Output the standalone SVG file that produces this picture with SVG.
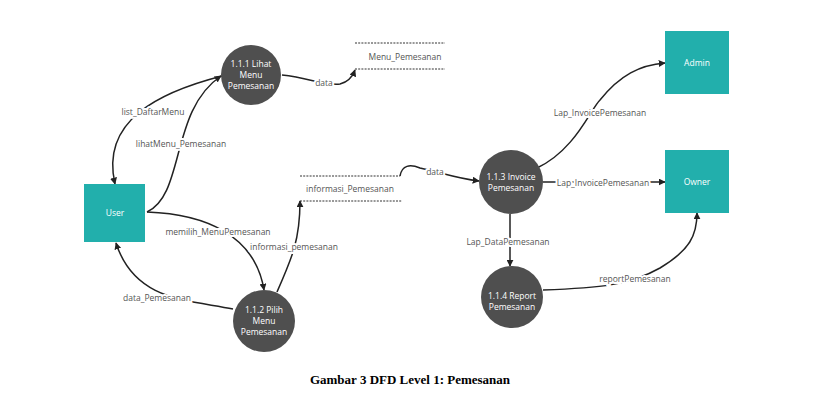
<svg xmlns="http://www.w3.org/2000/svg" width="813" height="415" viewBox="0 0 813 415">
<style>
.p{fill:#4f4f4f}
.e{fill:#22afac}
.t{font-family:"Open Sans",sans-serif;font-size:8.5px;fill:#fff;text-anchor:middle}
.l{font-family:"Open Sans",sans-serif;font-size:8.5px;fill:#555;text-anchor:middle;stroke:#fff;stroke-width:4px;paint-order:stroke}
.c{fill:none;stroke:#222;stroke-width:1.5}
.d{fill:none;stroke:#333;stroke-width:1;stroke-dasharray:2 1.2}
</style>
<defs><marker id="a" viewBox="0 0 10 10" refX="9" refY="5" markerWidth="7" markerHeight="7" markerUnits="userSpaceOnUse" orient="auto"><path d="M0,0L10,5L0,10z" fill="#222"/></marker></defs>
<rect width="813" height="415" fill="#fff"/>
<g id="connectors">
<path class="c" d="M222,76 C160,92 100,120 115,184" marker-end="url(#a)"/>
<path class="c" d="M147,212 C185,195 170,110 221,76" marker-end="url(#a)"/>
<path class="c" d="M282,75 C310,78 325,86 340,84 C348,82 352,78 355,70" marker-end="url(#a)"/>
<path class="c" d="M147,212 C205,214 255,235 264,290" marker-end="url(#a)"/>
<path class="c" d="M277,292 C292,258 300,240 300,201" marker-end="url(#a)"/>
<path class="c" d="M233,309 C190,300 135,302 116,243" marker-end="url(#a)"/>
<path class="c" d="M400,176 C402,165 410,164 420,168 C440,172 455,178 479,181" marker-end="url(#a)"/>
<path class="c" d="M537,168 C575,150 590,110 600,100 C620,75 640,65 665,63" marker-end="url(#a)"/>
<path class="c" d="M543,182 L665,182" marker-end="url(#a)"/>
<path class="c" d="M510,214 L510,266" marker-end="url(#a)"/>
<path class="c" d="M543,290 C600,288 630,285 660,268 C690,250 697,235 697,213" marker-end="url(#a)"/>
<text class="l" x="153" y="115">list_DaftarMenu</text>
<text class="l" x="181" y="147">lihatMenu_Pemesanan</text>
<text class="l" x="324" y="86">data</text>
<text class="l" x="218" y="235">memilih_MenuPemesanan</text>
<text class="l" x="294" y="250">informasi_pemesanan</text>
<text class="l" x="157" y="301">data_Pemesanan</text>
<text class="l" x="435" y="175">data</text>
<text class="l" x="600" y="116">Lap_InvoicePemesanan</text>
<text class="l" x="603" y="186">Lap_InvoicePemesanan</text>
<text class="l" x="508" y="245">Lap_DataPemesanan</text>
<text class="l" x="635" y="282">reportPemesanan</text>
</g>
<g id="store1"><path class="d" d="M355,43H445M355,69H445"/><text class="l" x="405" y="60" style="stroke:none">Menu_Pemesanan</text></g>
<g id="store2"><path class="d" d="M300,176H400M300,201H402"/><text class="l" x="350" y="192" style="stroke:none">informasi_Pemesanan</text></g>
<g id="p111"><circle class="p" cx="251" cy="75" r="30"/><text class="t" x="251" y="67">1.1.1 Lihat</text><text class="t" x="251" y="78">Menu</text><text class="t" x="251" y="89">Pemesanan</text></g>
<g id="p112"><circle class="p" cx="264" cy="321" r="31"/><text class="t" x="264" y="313">1.1.2 Pilih</text><text class="t" x="264" y="324">Menu</text><text class="t" x="264" y="335">Pemesanan</text></g>
<g id="p113"><circle class="p" cx="511" cy="182" r="32"/><text class="t" x="511" y="180">1.1.3 Invoice</text><text class="t" x="511" y="191">Pemesanan</text></g>
<g id="p114"><circle class="p" cx="512" cy="297" r="31"/><text class="t" x="512" y="299">1.1.4 Report</text><text class="t" x="512" y="310">Pemesanan</text></g>
<g id="user"><rect class="e" x="84" y="184" width="61" height="58"/><text class="t" x="115" y="216">User</text></g>
<g id="admin"><rect class="e" x="665" y="31" width="64" height="63"/><text class="t" x="697" y="66">Admin</text></g>
<g id="owner"><rect class="e" x="665" y="150" width="64" height="63"/><text class="t" x="697" y="185">Owner</text></g>
<text x="410" y="384" font-family="Liberation Serif,serif" font-weight="bold" font-size="13" text-anchor="middle">Gambar 3 DFD Level 1: Pemesanan</text>
</svg>
